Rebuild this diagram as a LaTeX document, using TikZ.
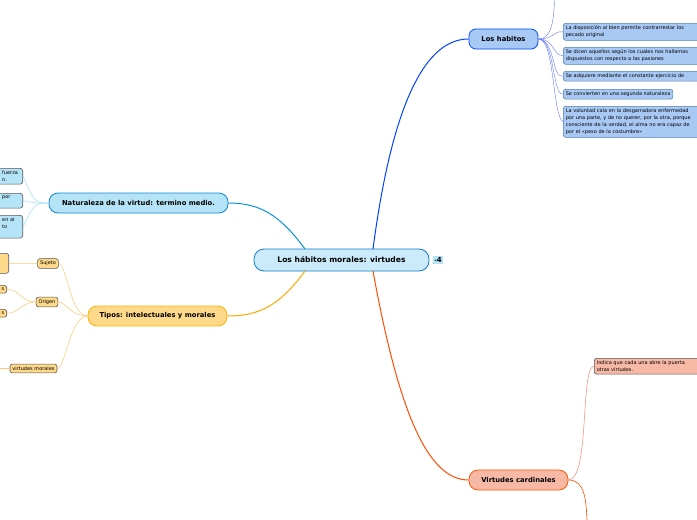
\documentclass[tikz,border=0pt]{standalone}
\usepackage{fontspec}
\setmainfont{DejaVu Sans}
\begin{document}
\begin{tikzpicture}[x=1pt,y=-1pt,
 box/.style={draw,rounded corners=2.5pt,line width=0.6pt,inner xsep=2.5pt,inner ysep=2.5pt,align=left,font=\fontsize{5}{7}\selectfont,anchor=north west},
 bl/.style={box,fill=blueA,draw=blueB,text width=150pt},
 cy/.style={box,fill=cyanA,draw=gray!70!black,text width=60pt},
 ye/.style={box,fill=yelA,draw=gray!70!black},
 main/.style={draw,rounded corners=9pt,line width=0.8pt,font=\bfseries\fontsize{6.8}{8}\selectfont,minimum height=20pt,inner xsep=10pt}]
\definecolor{blueA}{HTML}{A9C9F5}\definecolor{blueB}{HTML}{5580B0}
\definecolor{cyanA}{HTML}{B5E3F8}\definecolor{yelA}{HTML}{FED98A}
\definecolor{salA}{HTML}{F7B9A5}
\useasboundingbox (0,0) rectangle (697,520);
\clip (0,0) rectangle (697,520);
\node[main,fill=cyanA!70!white,draw=cyan!60!blue,minimum width=175pt,minimum height=22pt,rounded corners=10pt,font=\bfseries\fontsize{7.6}{9}\selectfont] (c) at (341.5,260) {Los hábitos morales: virtudes};
\node[fill=cyanA,inner sep=1pt,font=\bfseries\fontsize{6}{6}\selectfont] (ic) at (438,260) {-\raisebox{0.5pt}{\scriptsize 4}};
% Los habitos
\node[main,fill=blueA,draw=blue!70!cyan,minimum width=69pt,rounded corners=7pt] (h) at (503.5,39) {Los habitos};
\draw[blue!75!cyan,line width=1pt] (373,249) .. controls (390,120) and (420,39) .. (h.west);
\foreach \y/\t/\n in {23/{La disposición al bien permite contrarrestar los\\pecado original}/h1,
 47/{Se dicen aquellos según los cuales nos hallamos\\dispuestos con respecto a las pasiones}/h2,
 71/{Se adquiere mediante el constante ejercicio de}/h3,
 106/{La voluntad caía en la desgarradora enfermedad\\por una parte, y de no querer, por la otra, porque\\consciente de la verdad, el alma no era capaz de\\por el «peso de la costumbre»}/h5}
 {\node[bl] (\n) at (563,\y) {\t};
  \draw[blueA!60!blue,line width=0.4pt] (h.east) .. controls (555,39) and (552,\y+8) .. (\n.west);}
\node[box,fill=blueA,draw=blueB] (h4) at (563,89) {Se convierten en una segunda naturaleza};
\draw[blueA!60!blue,line width=0.4pt] (h.east) .. controls (555,39) and (552,95) .. (h4.west);
\coordinate (htop) at (555,0);
\draw[blueA!60!blue,line width=0.4pt] (h.east) .. controls (555,39) and (553,10) .. (htop);
% Naturaleza
\node[main,fill=cyanA,draw=cyan!70!blue,minimum width=179pt] (n) at (138.5,203) {Naturaleza de la virtud: termino medio.};
\draw[cyan!80!blue,line width=1pt] (305,249) .. controls (280,215) and (260,203) .. (n.east);
\node[cy,anchor=north east] (n1) at (23,168) {\hspace*{42pt}fuerza\\\hspace*{42pt}n.};
\node[cy,anchor=north east] (n2) at (23,193) {\hspace*{42pt}por\\\mbox{}};
\node[cy,anchor=north east] (n3) at (23,215) {\hspace*{42pt}en al\\\hspace*{42pt}to\\\mbox{}};
\foreach \n in {n1,n2,n3}\draw[cyan!40,line width=0.5pt] (n.west) .. controls (35,203) and (35,203) .. (\n.east);
% Tipos
\node[main,fill=yelA,draw=orange!60!yellow,minimum width=139pt] (t) at (157.5,316) {Tipos: intelectuales y morales};
\draw[orange!70!yellow,line width=1pt] (305,271) .. controls (280,305) and (260,316) .. (t.east);
\node[ye,anchor=center] (s) at (48,263.5) {Sujeto};
\node[ye,anchor=center] (o) at (47,302) {Origen};
\node[ye,anchor=center] (v) at (33.5,368.5) {virtudes morales};
\foreach \n in {s,o,v}\draw[yelA!80!orange,line width=0.5pt] (t.west) .. controls (70,316) and ([xshift=8pt]\n.east) .. (\n.east);
\node[ye,anchor=north east,minimum width=40pt,minimum height=20pt] (s1) at (9,253) {};
\draw[yelA!80!orange,line width=0.5pt] (s.west) -- (s1.east);
\node[ye,anchor=north east,text width=35pt,align=right] (o1) at (7,285) {s};
\node[ye,anchor=north east,text width=35pt,align=right] (o2) at (7,309) {s};
\foreach \n in {o1,o2}\draw[yelA!80!orange,line width=0.5pt] (o.west) .. controls (22,302) and ([xshift=12pt]\n.east) .. (\n.east);
\coordinate (vl) at (0,368.5);
\draw[yelA!80!orange,line width=0.5pt] (v.west) -- (vl);
% Virtudes cardinales
\node[main,fill=salA,draw=orange!70!red,minimum width=99pt] (vc) at (518.5,480) {Virtudes cardinales};
\draw[orange!60!red,line width=1pt] (373,271) .. controls (400,420) and (430,480) .. (vc.west);
\node[box,fill=salA,draw=gray!70!black,text width=130pt] (vc1) at (594,358) {Indica que cada una abre la puerta\\otras virtudes.};
\draw[salA!70!red,line width=0.5pt] (vc.east) .. controls (590,480) and (580,367) .. (vc1.west);
\coordinate (vcb) at (587,520);
\draw[orange!60!red,line width=0.6pt] (vc.east) .. controls (585,480) and (586,500) .. (vcb);
\end{tikzpicture}
\end{document}
